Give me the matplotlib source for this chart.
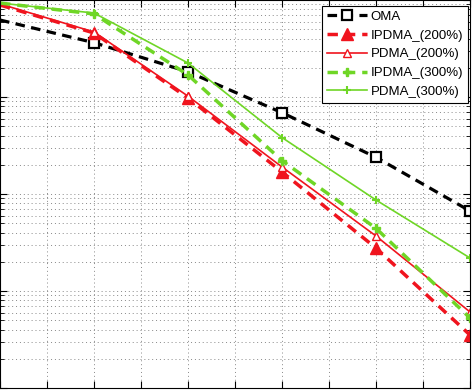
import numpy as np
import matplotlib
matplotlib.use('Agg')
import matplotlib.pyplot as plt

snr = [0, 2, 4, 6, 8, 10]

ber_oma = [0.622, 0.363, 0.182, 0.0689, 0.0239, 0.00668]
ber_ipdma_200 = [0.888, 0.457, 0.0977, 0.0169, 0.00277, 0.000352]
ber_pdma_200 = [0.91, 0.468, 0.102, 0.019, 0.00369, 0.000608]
ber_ipdma_300 = [0.93, 0.718, 0.169, 0.0221, 0.00443, 0.000527]
ber_pdma_300 = [0.93, 0.734, 0.224, 0.0382, 0.00867, 0.00219]

legend_labels = ['OMA', 'IPDMA_(200%)', 'PDMA_(200%)', 'IPDMA_(300%)', 'PDMA_(300%)']

RED = '#f0141e'
GREEN = '#6fd626'


def make_plot():
    plt.rcParams['font.family'] = ['Liberation Sans', 'DejaVu Sans']

    fig = plt.figure(figsize=(4.74, 3.91), dpi=100)
    ax = fig.add_axes([0.0, 3 / 391, 470 / 474, 388 / 391])

    # first point sits on the cropped left edge, no marker shown there
    marks = slice(1, None)

    ax.plot(snr, ber_oma, color='black', linestyle=(0, (3, 2)), linewidth=2.3,
            marker='s', markersize=7, markerfacecolor='white', markevery=marks,
            markeredgecolor='black', markeredgewidth=1.6, label=legend_labels[0])
    ax.plot(snr, ber_ipdma_200, color=RED, linestyle=(0, (3, 2)), linewidth=2.5,
            marker='^', markersize=9, markerfacecolor=RED, markevery=marks,
            markeredgecolor=RED, label=legend_labels[1])
    ax.plot(snr, ber_pdma_200, color=RED, linestyle='-', linewidth=1.2,
            marker='^', markersize=6, markerfacecolor='white', markevery=marks,
            markeredgecolor=RED, markeredgewidth=1.0, label=legend_labels[2])
    ax.plot(snr, ber_ipdma_300, color=GREEN, linestyle=(0, (3, 2)), linewidth=2.5,
            marker='P', markersize=6, markerfacecolor=GREEN, markevery=marks,
            markeredgecolor=GREEN, label=legend_labels[3])
    ax.plot(snr, ber_pdma_300, color=GREEN, linestyle='-', linewidth=1.2,
            marker='+', markersize=6, markeredgewidth=1.5, markevery=marks,
            markeredgecolor=GREEN, label=legend_labels[4])

    ax.set_yscale('log')
    ax.set_xlim(0, 10)
    ax.set_ylim(1e-4, 1e0)
    ax.set_xticks(np.arange(0, 11, 1))

    ax.grid(True, which='major', linestyle=(0, (1, 3)), color='#888888', linewidth=0.7)
    ax.grid(True, which='minor', axis='y', linestyle=(0, (1, 3)), color='#888888', linewidth=0.7)

    ax.tick_params(which='both', direction='in', top=True, right=True,
                   labelleft=False, labelbottom=False)
    ax.tick_params(which='major', length=5)
    ax.tick_params(which='minor', length=3)
    for side in ax.spines.values():
        side.set_linewidth(0.8)

    leg = ax.legend(loc='upper right', bbox_to_anchor=(0.995, 0.985),
                    fontsize=9.5, frameon=True, fancybox=False,
                    edgecolor='black', framealpha=1.0,
                    handlelength=3.0, handletextpad=0.3,
                    labelspacing=0.5, borderpad=0.35, borderaxespad=0.0)
    leg.get_frame().set_linewidth(0.8)

    fig.savefig('out.png', dpi=100)
    plt.close(fig)


if __name__ == '__main__':
    make_plot()
